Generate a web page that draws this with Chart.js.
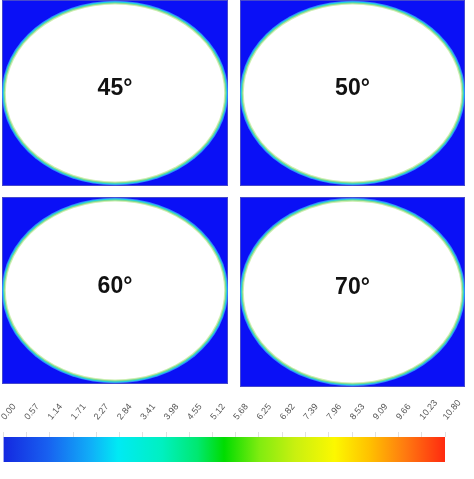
<!DOCTYPE html>
<html><head><meta charset="utf-8">
<script src="https://cdn.jsdelivr.net/npm/chart.js@4/dist/chart.umd.min.js"></script>
<style>
html,body{margin:0;padding:0;background:#fff}
body{width:474px;height:479px;overflow:hidden;position:relative}
.p{position:absolute}
canvas{display:block}
</style></head><body>
<div class="p" style="left:2px;top:0px"><canvas id="c0" width="226" height="186"></canvas></div>
<div class="p" style="left:240px;top:0px"><canvas id="c1" width="225" height="186"></canvas></div>
<div class="p" style="left:2px;top:197px"><canvas id="c2" width="226" height="187"></canvas></div>
<div class="p" style="left:240px;top:197px"><canvas id="c3" width="225" height="190"></canvas></div>
<div class="p" style="left:-15px;top:395px"><canvas id="cb" width="489" height="75"></canvas></div>
<script>
// ---- data ----
const angleLabels = ['45°', '50°', '60°', '70°'];
const colorbarRange = [0.00, 10.80];
const colorbarTicks = [0.00, 0.57, 1.14, 1.71, 2.27, 2.84, 3.41, 3.98, 4.55, 5.12, 5.68, 6.25, 6.82, 7.39, 7.96, 8.53, 9.09, 9.66, 10.23, 10.80];
const colorbarTickLabels = ['0.00', '0.57', '1.14', '1.71', '2.27', '2.84', '3.41', '3.98', '4.55', '5.12', '5.68', '6.25', '6.82', '7.39', '7.96', '8.53', '9.09', '9.66', '10.23', '10.80'];

const FONT = '"Liberation Sans", Arial, Helvetica, sans-serif';
const BLUE = '#0a10f6';

const fieldPlugin = {
  id: 'field',
  beforeDatasetsDraw(chart) {
    const {ctx, chartArea: a, scales: {x, y}} = chart;
    ctx.save();
    ctx.fillStyle = BLUE;
    ctx.fillRect(a.left, a.top, a.width, a.height);
    ctx.strokeStyle = 'rgba(120,120,170,0.55)';
    ctx.lineWidth = 1;
    ctx.strokeRect(a.left + 0.5, a.top + 0.5, a.width - 1, a.height - 1);
    const cx = x.getPixelForValue(0), cy = y.getPixelForValue(0);
    const rx = Math.abs(x.getPixelForValue(0.978) - cx);
    const ry = Math.abs(y.getPixelForValue(0.965) - cy);
    const rings = [[2.6, '#3a7cff'], [1.7, '#20d0e0'], [0.8, '#7ad890'], [-0.2, '#cdeeb0'], [-1.3, '#ffffff']];
    for (const [d, col] of rings) {
      ctx.beginPath();
      ctx.ellipse(cx, cy, rx + d, ry + d, 0, 0, Math.PI * 2);
      ctx.fillStyle = col;
      ctx.fill();
    }
    ctx.restore();
  },
  afterDatasetsDraw(chart) {
    const {ctx, scales: {x, y}} = chart;
    const lbl = chart.data.datasets[0].label;
    ctx.save();
    ctx.font = 'bold 23px ' + FONT;
    ctx.fillStyle = '#111';
    ctx.textAlign = 'center';
    ctx.textBaseline = 'middle';
    ctx.fillText(lbl, x.getPixelForValue(0), y.getPixelForValue(0) - 4);
    ctx.restore();
  }
};

angleLabels.forEach((lab, i) => {
  new Chart(document.getElementById('c' + i), {
    type: 'scatter',
    data: {datasets: [{label: lab, data: [{x: 0, y: 0}], pointRadius: 0}]},
    options: {
      responsive: false, animation: false, events: [],
      layout: {padding: 0},
      plugins: {legend: {display: false}, tooltip: {enabled: false}},
      scales: {
        x: {type: 'linear', min: -1, max: 1, display: false},
        y: {type: 'linear', min: -1, max: 1, display: false}
      }
    },
    plugins: [fieldPlugin]
  });
});

const stops = [[0, '#1428e0'], [0.1, '#1860f0'], [0.2, '#10b0f8'], [0.26, '#00eaf4'], [0.36, '#00f0c0'],
  [0.44, '#00e870'], [0.5, '#00dc00'], [0.58, '#80ec10'], [0.66, '#c8f010'], [0.75, '#fcf800'],
  [0.83, '#ffc000'], [0.91, '#ff7a10'], [1, '#ff2a10']];

new Chart(document.getElementById('cb'), {
  type: 'bar',
  data: {
    labels: ['scale'],
    datasets: [{
      data: [colorbarRange],
      borderWidth: 0, borderSkipped: false,
      barPercentage: 1, categoryPercentage: 1,
      backgroundColor: (c) => {
        const ch = c.chart, a = ch.chartArea;
        if (!a) return BLUE;
        const g = ch.ctx.createLinearGradient(a.left, 0, a.right, 0);
        stops.forEach(([p, col]) => g.addColorStop(p, col));
        return g;
      }
    }]
  },
  options: {
    indexAxis: 'y', responsive: false, animation: false, events: [],
    layout: {autoPadding: false, padding: {left: 5, right: 29, top: 0, bottom: 8}},
    plugins: {legend: {display: false}, tooltip: {enabled: false}},
    scales: {
      x: {
        type: 'linear', position: 'top', min: colorbarRange[0], max: colorbarRange[1],
        afterBuildTicks: (s) => { s.ticks = colorbarTicks.map(v => ({value: v})); },
        afterFit: (s) => { s.height = 42; },
        ticks: {
          autoSkip: false, minRotation: 50, maxRotation: 50, padding: 10, labelOffset: 8,
          font: {size: 9, family: FONT}, color: '#555',
          callback: (v, i) => colorbarTickLabels[i]
        },
        grid: {drawOnChartArea: false, tickLength: 5, color: 'rgba(170,170,170,0.35)'},
        border: {display: false}
      },
      y: {display: false}
    }
  }
});
</script>
</body></html>
